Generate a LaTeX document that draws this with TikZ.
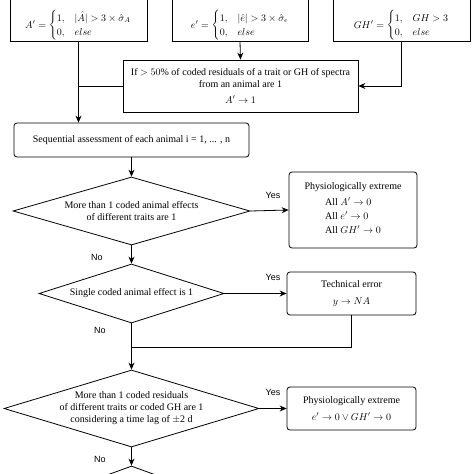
\documentclass[tikz,border=0pt]{standalone}
\usepackage{amsmath}
\usepackage{fontspec}
\setmainfont{Liberation Serif}
\newfontfamily\yesnofont{Liberation Sans}
\usetikzlibrary{arrows.meta,shapes.geometric}
\tikzset{
  every node/.style={font=\fontsize{10}{12}\selectfont},
  plainbox/.style={draw,line width=0.8pt,inner sep=2pt,align=center},
  codebox/.style={plainbox,minimum width=#1,anchor=base,text height=31pt,text depth=11pt},
  roundbox/.style={plainbox,rounded corners=3pt},
  decision/.style={diamond,draw,line width=0.8pt,inner sep=0pt},
  answer/.style={font=\yesnofont\fontsize{9}{11}\selectfont},
  flow/.style={-{Stealth[length=7pt,width=6pt]},line width=0.8pt},
  joinline/.style={line width=0.8pt}
}

\begin{document}
\begin{tikzpicture}[x=1pt,y=-1pt]
  \useasboundingbox (0,0) rectangle (474,474);
  \clip (0,0) rectangle (474,474);
  % coding of the estimates
  \node[codebox=137pt] (codeA) at (78.5,28)
    {$A' = \begin{cases}1, & |\hat{A}| > 3\times\hat{\sigma}_A\\ 0, & else\end{cases}$};
  \node[codebox=136pt] (codeE) at (240,28)
    {$e' = \begin{cases}1, & |\hat{e}| > 3\times\hat{\sigma}_\epsilon\\ 0, & else\end{cases}$};
  \node[codebox=137pt] (codeG) at (401.5,28)
    {$GH' = \begin{cases}1, & GH > 3\\ 0, & else\end{cases}$};
  \node[plainbox,minimum width=235pt,minimum height=52pt] (spectra) at (240.5,86)
    {If $>50\%$ of coded residuals of a trait or GH of spectra\\from an animal are 1\\[4pt]$A'\rightarrow 1$};
  \draw[flow] (codeE.south) -- (spectra.north);
  \draw[flow] (codeG.south) |- (spectra.east);
  \draw[joinline] (spectra.west) -- (spectra.west -| codeA.south);

  % assessment per animal
  \node[roundbox,minimum width=235pt,minimum height=34pt] (seq) at (131.5,140)
    {Sequential assessment of each animal i = 1, ... , n};
  \draw[flow] (codeA.south) -- (codeA.south |- seq.north);
  \node[decision,minimum width=237pt,minimum height=68pt,
    label={[align=center]center:More than 1 coded animal effects\\of different traits are 1}] (dia1) at (131.5,211) {};
  \node[roundbox,minimum width=128pt,minimum height=76pt] (phys1) at (353,210)
    {Physiologically extreme\\[4pt]
     \begin{tabular}{@{}l@{}}All $A'\rightarrow 0$\\[2pt] All $e'\rightarrow 0$\\[2pt] All $GH'\rightarrow 0$\end{tabular}};
  \draw[flow] (seq.south) -- (dia1.north);
  \draw[flow] (dia1.east) -- (phys1.west);
  \node[answer] (yes1) at (273,195) {Yes};

  \node[decision,minimum width=185pt,minimum height=59pt,
    label={center:Single coded animal effect is 1}] (dia2) at (131.5,293.5) {};
  \node[roundbox,minimum width=129pt,minimum height=43pt] (tech) at (351.5,293.5)
    {Technical error\\[5pt]$y\rightarrow NA$};
  \draw[flow] (dia1.south) -- (dia2.north);
  \node[answer] (no1) at (97,257) {No};
  \draw[flow] (dia2.east) -- (tech.west);
  \node[answer] (yes2) at (273,277) {Yes};

  \node[decision,minimum width=255pt,minimum height=77pt,
    label={[align=center]center:More than 1 coded residuals\\of different traits or coded GH are 1\\considering a time lag of $\pm$2 d}] (dia3) at (131.5,408.5) {};
  \node[roundbox,minimum width=129pt,minimum height=43pt] (phys2) at (351.5,408.5)
    {Physiologically extreme\\[5pt]$e'\rightarrow 0 \vee GH'\rightarrow 0$};
  \coordinate (merge) at (131.5,347);
  \draw[flow] (dia2.south) -- (dia3.north);
  \draw[joinline] (tech.south) |- (merge);
  \node[answer] (no2) at (100,330) {No};
  \draw[flow] (dia3.east) -- (phys2.west);
  \node[answer] (yes3) at (273,392) {Yes};

  \node[decision,minimum width=198pt,minimum height=72pt] (dia4) at (131.5,502) {};
  \draw[flow] (dia3.south) -- (dia4.north);
  \node[answer] (no3) at (100,459) {No};
\end{tikzpicture}
\end{document}
